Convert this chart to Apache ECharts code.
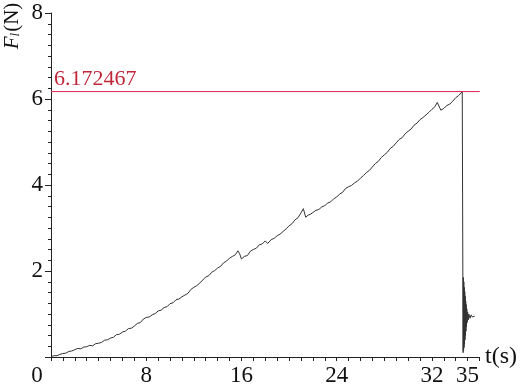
<!DOCTYPE html>
<html>
<head>
<meta charset="utf-8">
<script src="https://cdn.jsdelivr.net/npm/echarts@6/dist/echarts.min.js"></script>
<style>html,body{margin:0;padding:0;background:#fff;}#c{width:520px;height:387px;}</style>
</head>
<body>
<div id="c"></div>
<script>
// time (s)
const timeS = [
0,0.25,0.5,0.75,1,1.25,1.5,1.75,2,2.25,2.5,2.75,3,3.25,3.5,3.75,4,4.25,4.5,4.75,
5,5.25,5.5,5.75,6,6.25,6.5,6.75,7,7.25,7.5,7.75,8,8.25,8.5,8.75,9,9.25,9.5,9.75,
10,10.25,10.5,10.75,11,11.25,11.5,11.75,12,12.25,12.5,12.75,13,13.25,13.5,13.75,14,14.25,14.5,14.75,
15,15.25,15.5,15.7,15.85,16,16.25,16.5,16.75,17,17.25,17.5,17.75,18,18.2,18.5,18.75,19,19.25,19.5,19.75,
20,20.25,20.5,20.75,21,21.2,21.4,21.6,21.8,22,22.25,22.5,22.75,23,23.25,23.5,23.75,24,24.25,24.5,24.75,
25,25.25,25.5,25.75,26,26.25,26.5,26.75,27,27.25,27.5,27.75,28,28.25,28.5,28.75,29,29.25,29.5,29.75,
30,30.25,30.5,30.75,31,31.25,31.5,31.75,32,32.25,32.45,32.6,32.75,33,33.25,33.5,33.75,34,34.25,34.55,
34.62,34.64,34.66,34.68,34.70,34.72,34.74,34.76,34.78,34.80,34.82,34.84,34.86,34.88,34.90,34.93,34.96,35.0,35.05,35.1,35.2,35.3,35.4,35.5,35.6
];
// force Fl (N)
const forceN = [
0.01,0.03,0.03,0.06,0.08,0.09,0.13,0.14,0.17,0.20,0.19,0.23,0.24,0.27,0.26,0.31,0.32,0.34,0.39,0.40,
0.44,0.46,0.52,0.53,0.58,0.60,0.66,0.67,0.72,0.78,0.80,0.88,0.92,0.93,0.98,1.01,1.07,1.09,1.15,1.17,
1.24,1.26,1.33,1.35,1.40,1.44,1.48,1.57,1.62,1.66,1.72,1.79,1.86,1.89,1.97,2.01,2.07,2.11,2.19,2.23,
2.30,2.34,2.38,2.47,2.40,2.28,2.34,2.36,2.46,2.50,2.53,2.61,2.63,2.70,2.64,2.73,2.76,2.82,2.86,2.92,2.98,
3.05,3.10,3.19,3.24,3.35,3.45,3.25,3.30,3.32,3.36,3.41,3.43,3.49,3.52,3.58,3.61,3.68,3.72,3.79,3.83,3.92,
3.96,3.99,4.05,4.09,4.16,4.22,4.29,4.34,4.42,4.50,4.55,4.64,4.70,4.76,4.85,4.90,4.98,5.06,5.10,5.19,
5.25,5.30,5.39,5.44,5.52,5.57,5.63,5.69,5.76,5.82,5.92,5.90,5.74,5.78,5.85,5.88,5.95,6.03,6.08,6.172467,
0.10,1.85,0.15,1.75,0.22,1.62,0.30,1.52,0.40,1.42,0.50,1.30,0.60,1.22,0.70,1.12,0.80,1.05,0.86,1.00,0.90,0.98,0.93,0.96,0.95
];
const xLabels = [0, 8, 16, 24, 32, 35];
const yLabels = [2, 4, 6, 8];
const peakValue = 6.172467;
const peakLineT = [0, 36];

const serif = '"Liberation Serif","Times New Roman",serif';
const red = '#e0305a';
const chart = echarts.init(document.getElementById('c'), null, {renderer: 'canvas'});
const points = timeS.map((t, i) => [t, forceN[i]]);
const peakPoints = peakLineT.map(t => [t, peakValue]);

chart.setOption({
  animation: false,
  backgroundColor: '#fff',
  color: [red, '#333'],
  grid: {left: 51, right: 40, top: 13, bottom: 28, containLabel: false},
  xAxis: {
    type: 'value', min: 0, max: 36, interval: 1,
    name: 't(s)', nameLocation: 'end', nameGap: 4,
    nameTextStyle: {fontFamily: serif, fontSize: 24, color: '#111', verticalAlign: 'middle'},
    axisLine: {show: true, onZero: false, lineStyle: {color: '#222', width: 1}},
    axisTick: {show: true, inside: false, length: 4, lineStyle: {color: '#222'}},
    splitLine: {show: false},
    axisLabel: {
      margin: 7, fontFamily: serif, fontSize: 23, color: '#111', showMaxLabel: true,
      formatter: v => {
        if (v === 0) return '{o|0}';
        return xLabels.indexOf(v) >= 0 ? String(v) : '';
      },
      rich: {o: {fontFamily: serif, fontSize: 23, color: '#111', padding: [0, 28, 0, 0]}}
    }
  },
  yAxis: {
    type: 'value', min: 0, max: 8, interval: 2,
    axisLine: {show: true, onZero: false, lineStyle: {color: '#222', width: 1}},
    axisTick: {show: true, inside: false, length: 6, lineStyle: {color: '#222'}},
    minorTick: {show: true, splitNumber: 8, length: 3, lineStyle: {color: '#222'}},
    splitLine: {show: false},
    axisLabel: {
      margin: 8, fontFamily: serif, fontSize: 23, color: '#111',
      formatter: v => yLabels.indexOf(v) >= 0 ? String(v) : ''
    }
  },
  graphic: [{
    type: 'group', x: 12, y: 26, rotation: Math.PI / 2,
    children: [{
      type: 'text', x: 0, y: 0,
      style: {
        text: '{i|F}{s|l}{n|(N)}', align: 'center', verticalAlign: 'middle',
        rich: {
          i: {fontFamily: serif, fontSize: 21, fontStyle: 'italic', fill: '#111'},
          s: {fontFamily: serif, fontSize: 13, fontStyle: 'italic', fill: '#111', padding: [8, 1, 0, 0]},
          n: {fontFamily: serif, fontSize: 21, fill: '#111'}
        }
      }
    }]
  }],
  series: [{
    name: 'peak', type: 'line', data: peakPoints, z: 1,
    showSymbol: false, symbol: 'none',
    lineStyle: {color: red, width: 1}, itemStyle: {color: red}, silent: true,
    markLine: {
      silent: true, symbol: ['none', 'none'],
      lineStyle: {color: red, width: 1, type: 'solid'},
      label: {
        show: true, position: 'insideStartTop', distance: [3, 1],
        formatter: () => String(peakValue),
        fontFamily: serif, fontSize: 22, color: '#c0283a'
      },
      data: [{yAxis: peakValue}]
    }
  }, {
    name: 'force', type: 'line', data: points, z: 2, showSymbol: false, symbol: 'none',
    lineStyle: {color: '#333', width: 1}, itemStyle: {color: '#333'}, silent: true
  }]
});
</script>
</body>
</html>
